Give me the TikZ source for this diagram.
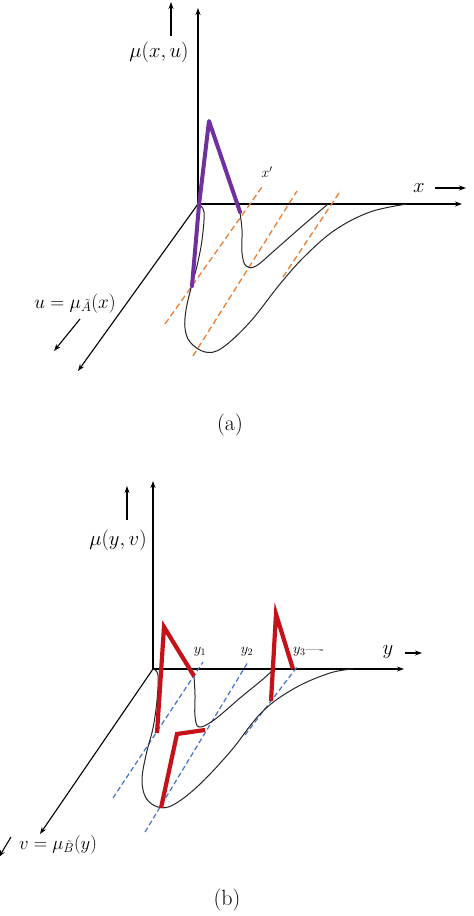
\documentclass[tikz,border=0pt]{standalone}
\usepackage{amsmath}
\usetikzlibrary{arrows.meta}
\definecolor{fpurple}{RGB}{112,48,160}
\definecolor{forange}{RGB}{237,125,49}
\definecolor{fred}{RGB}{196,18,24}
\definecolor{fblue}{RGB}{68,114,196}
\begin{document}
\begin{tikzpicture}[x=1pt,y=-1pt,
  axis/.style={line width=1.1pt,-{Stealth[length=7pt,width=5pt]}},
  curve/.style={line width=1pt,black!85},
  thickp/.style={line width=4pt,fpurple,line join=round,line cap=round},
  thickr/.style={line width=4.2pt,fred,line join=miter},
  odash/.style={line width=1.3pt,forange,dash pattern=on 6pt off 3.5pt},
  bdash/.style={line width=1.2pt,fblue,dash pattern=on 5pt off 3pt},
  lbl/.style={inner sep=0pt,font=\fontsize{20}{23}\selectfont},
  mlbl/.style={inner sep=0pt,font=\fontsize{20}{23}\selectfont},
  slbl/.style={inner sep=0pt,font=\fontsize{14}{16}\selectfont}]
\useasboundingbox (0,0) rectangle (474,916);
% ---------------- panel (a) ----------------
\coordinate (Oa) at (198,204);
\coordinate (Za) at (198,8);
\coordinate (Xa) at (462,204);
\coordinate (Ua) at (78,371);
\draw[axis] (Oa) -- (Za);
\draw[axis] (Oa) -- (Xa);
\draw[axis] (Oa) -- (Ua);
\coordinate (za1) at (171,36); \coordinate (za2) at (171,2);
\draw[axis] (za1) -- (za2);
\node[lbl] (muxu) at (159,52) {$\mu(x,u)$};
\node[lbl,font=\fontsize{22}{24}\selectfont] (xlab) at (419,188) {$x$};
\coordinate (xa1) at (435,188); \coordinate (xa2) at (466,188);
\draw[axis] (xa1) -- (xa2);
\node[mlbl] (ulab) at (75,304) {\scalebox{0.93}{$u=\mu_{\smash{\tilde{A}}}(x)$}};
\coordinate (ua1) at (80,319); \coordinate (ua2) at (54,351);
\draw[axis] (ua1) -- (ua2);
% orange dashed
\coordinate (o1a) at (165,324); \coordinate (o1b) at (262,187);
\coordinate (o2a) at (193,356); \coordinate (o2b) at (297,191);
\coordinate (o3a) at (283,277); \coordinate (o3b) at (341,190);
\draw[odash] (o1a) -- (o1b);
\draw[odash] (o2a) -- (o2b);
\draw[odash] (o3a) -- (o3b);
\node[slbl] (xs) at (267,172) {$x'$};
% black curves
\draw[curve] plot[smooth,tension=0.6] coordinates {(198,204) (204,212) (202,240) (197,266) (191,288) (186,310) (185,328) (190,342) (205,352) (222,348) (250,322) (280,284) (305,256) (335,230) (370,212) (407,204)};
\draw[curve] plot[smooth,tension=0.6] coordinates {(240,213) (242,230) (242,253) (246,266) (256,266) (275,250) (300,228) (328,204)};
% purple
\coordinate (pa) at (192,286); \coordinate (pb) at (199,205);
\coordinate (pc) at (209,121); \coordinate (pd) at (240,212);
\draw[thickp] (pa) -- (pb);
\draw[thickp] (pb) -- (pc) -- (pd);
\node[lbl,font=\fontsize{22}{25}\selectfont] (capa) at (230,425) {(a)};
% ---------------- panel (b) ----------------
\coordinate (Ob) at (153,669);
\coordinate (Zb) at (153,481);
\coordinate (Yb) at (404,669);
\coordinate (Vb) at (40,834);
\draw[axis] (Ob) -- (Zb);
\draw[axis] (Ob) -- (Yb);
\draw[axis] (Ob) -- (Vb);
\coordinate (zb1) at (127,520); \coordinate (zb2) at (127,486);
\draw[axis] (zb1) -- (zb2);
\node[lbl] (muyv) at (118,540) {$\mu(y,v)$};
\node[lbl,font=\fontsize{22}{24}\selectfont] (ylab) at (388,652) {$y$};
\coordinate (yb1) at (405,653); \coordinate (yb2) at (422,653);
\draw[axis] (yb1) -- (yb2);
\node[mlbl] (vlab) at (58,845) {\scalebox{0.9}{$v=\mu_{\smash{\tilde{B}}}(y)$}};
\coordinate (vb1) at (11,837); \coordinate (vb2) at (-1,857);
\draw[axis] (vb1) -- (vb2);
% blue dashed
\coordinate (b1a) at (113,798); \coordinate (b1b) at (203,662);
\coordinate (b2a) at (145,832); \coordinate (b2b) at (248,662);
\coordinate (b3a) at (245,735); \coordinate (b3b) at (297,667);
\draw[bdash] (b1a) -- (b1b);
\draw[bdash] (b2a) -- (b2b);
\draw[bdash] (b3a) -- (b3b);
\node[slbl] (y1) at (200,652) {$y_1$};
\node[slbl] (y2) at (247,652) {$y_2$};
\node[slbl,anchor=west] (y3) at (293,652) {$y_3$----};
% black curves
\draw[curve] plot[smooth,tension=0.6] coordinates {(153,669) (158,675) (157,700) (153,728) (146,755) (142,780) (146,798) (158,807) (173,805) (198,786) (230,752) (262,712) (295,688) (330,673) (353,669)};
\draw[curve] plot[smooth,tension=0.6] coordinates {(194,676) (195,695) (195,716) (199,727) (214,720) (240,698) (262,680) (273,670)};
% red
\coordinate (r1) at (157,733); \coordinate (r2) at (164,627); \coordinate (r3) at (194,676);
\draw[thickr] (r1) -- (r2) -- (r3);
\coordinate (s1) at (161,808); \coordinate (s2) at (177,734); \coordinate (s3) at (205,730);
\draw[thickr] (s1) -- (s2) -- (s3);
\coordinate (t1) at (271,701); \coordinate (t2) at (276,614); \coordinate (t3) at (293,669);
\draw[thickr] (t1) -- (t2) -- (t3);
\node[lbl,font=\fontsize{22}{25}\selectfont] (capb) at (227,900) {(b)};
\end{tikzpicture}
\end{document}
